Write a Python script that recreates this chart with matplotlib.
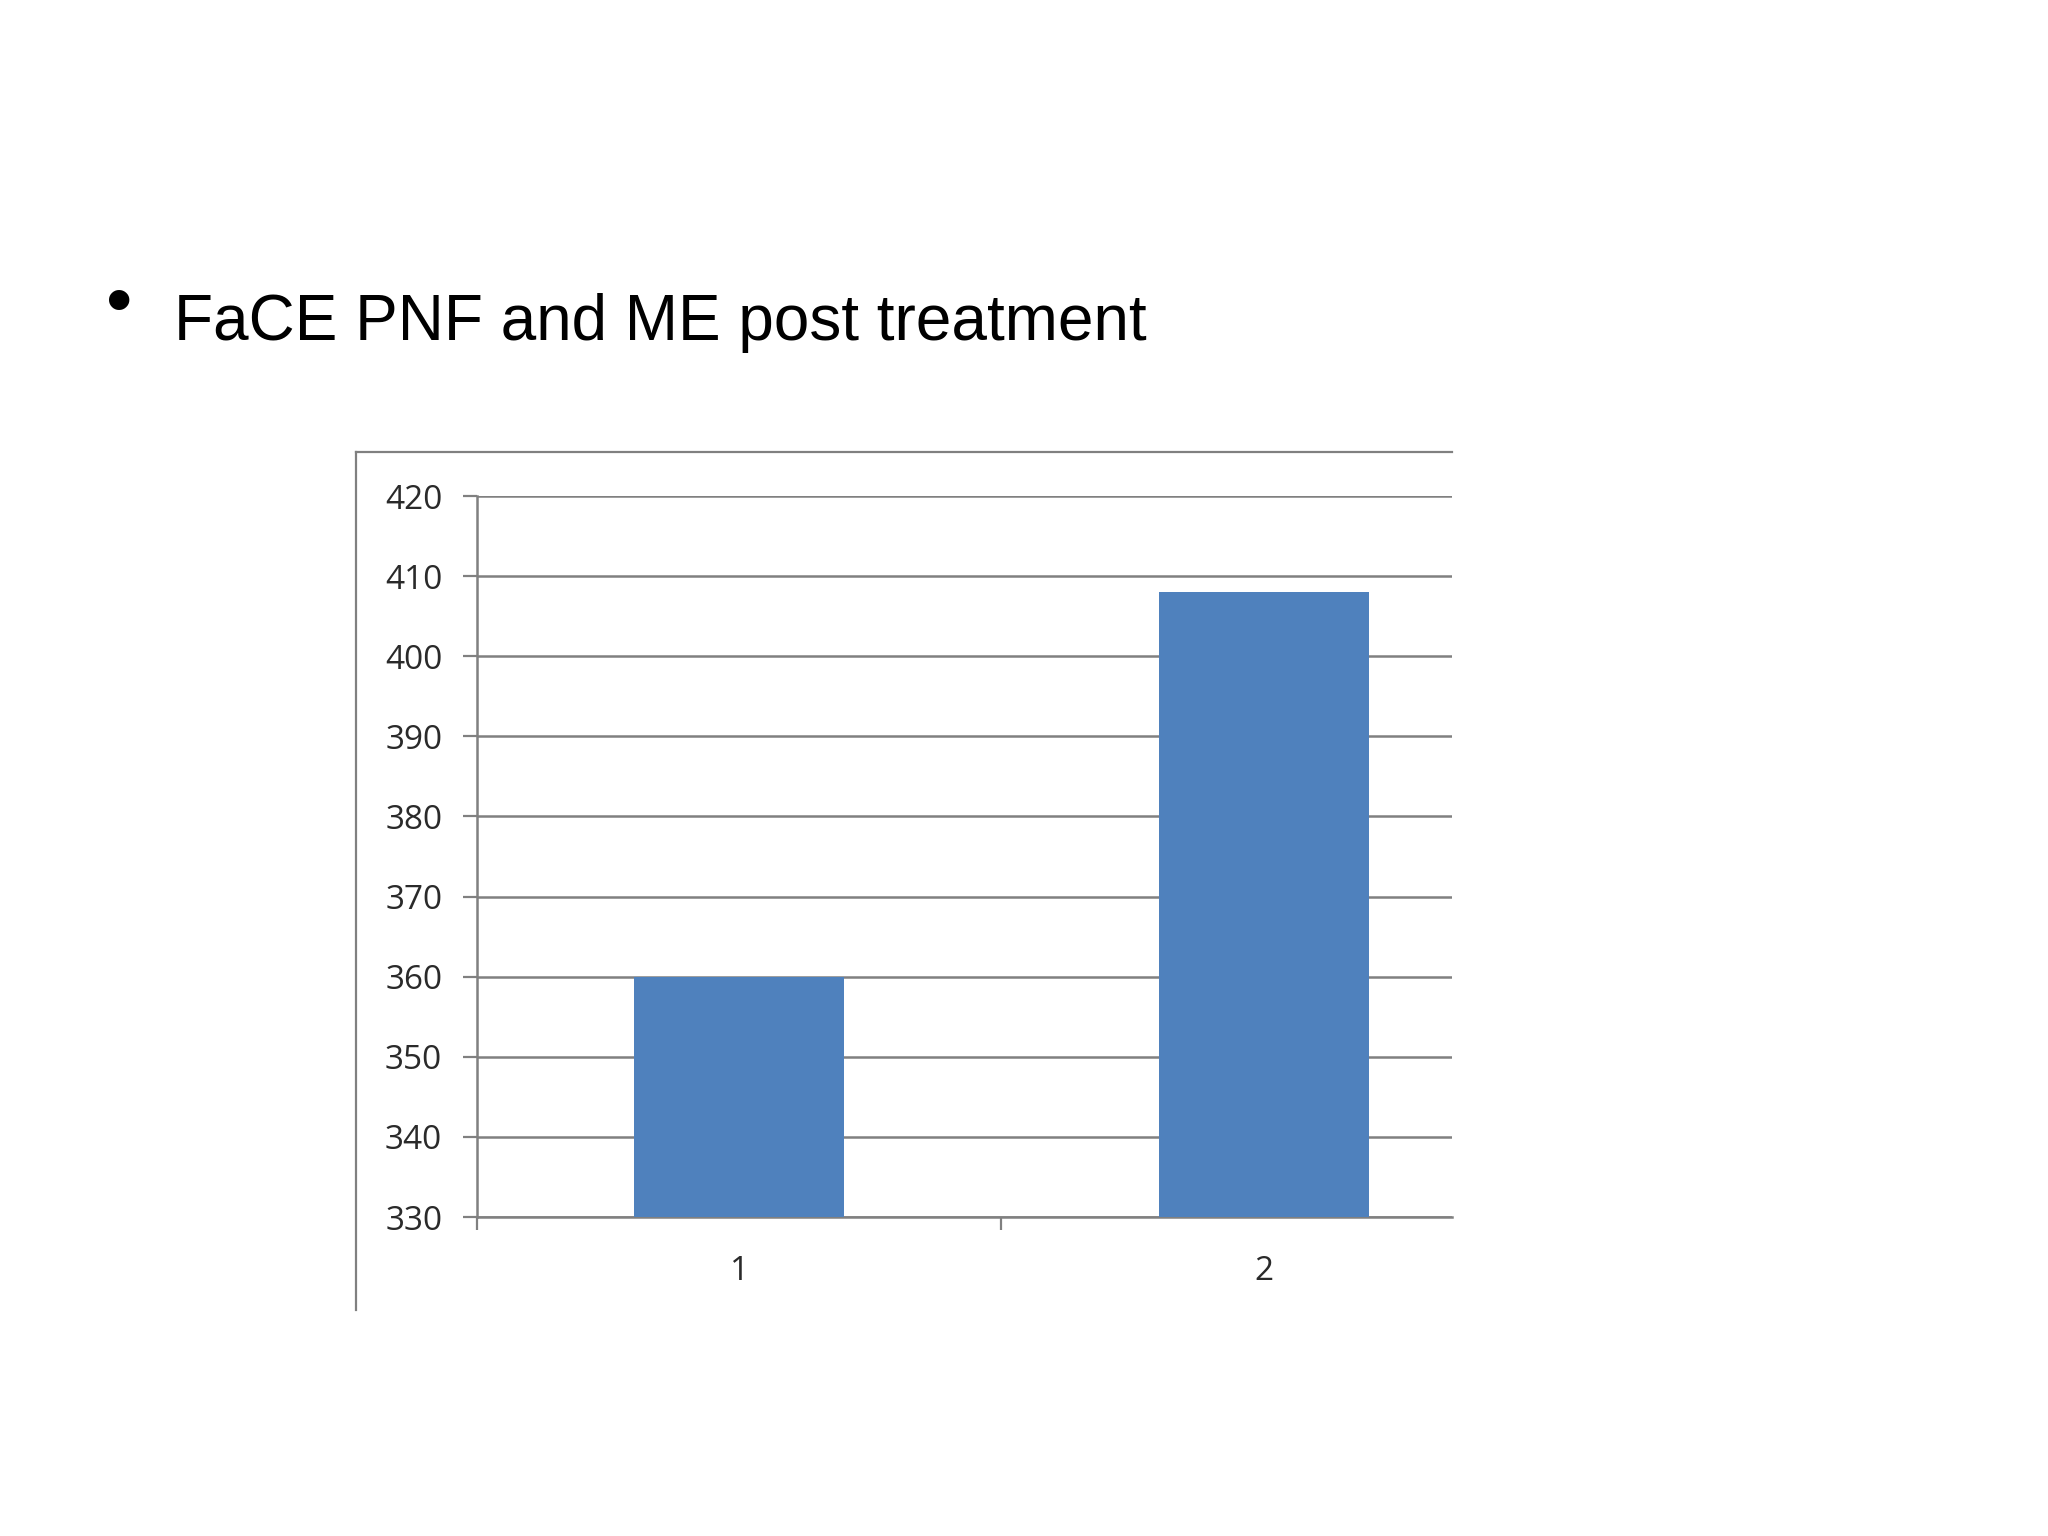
import matplotlib.pyplot as plt
from matplotlib.lines import Line2D

categories = [1, 2]
values = [360, 408]
y_ticks = [330, 340, 350, 360, 370, 380, 390, 400, 410, 420]
title = "FaCE PNF and ME post treatment"

W, H = 2048, 1536
fig = plt.figure(figsize=(W / 100, H / 100), dpi=100)

grey = "#808080"

# outer chart frame (only left and top visible, clipped slide picture)
fig.add_artist(Line2D([356 / W, 356 / W], [1 - 452 / H, 1 - 1310 / H],
                      transform=fig.transFigure, color=grey, lw=1.6))
fig.add_artist(Line2D([356 / W, 1452 / W], [1 - 452 / H, 1 - 452 / H],
                      transform=fig.transFigure, color=grey, lw=1.6))

# bullet title
fig.text(106 / W, 1 - 325 / H, "\u2022", fontsize=54, family="Liberation Sans",
         va="baseline", ha="left", color="black")
fig.text(174 / W, 1 - 340 / H, title, fontsize=46, family="Liberation Sans",
         va="baseline", ha="left", color="black")

ax = fig.add_axes([477 / W, 1 - 1217 / H, (1452 - 477) / W, (1217 - 496) / H])
ax.bar(categories, values, width=0.4, color="#4F81BD", zorder=3)

ax.set_yticks(y_ticks)
ax.set_yticklabels([str(v) for v in y_ticks], family="Open Sans", fontsize=24, color="#2a2a2a")

ax.set_xticks([0.5, 1.5])
ax.set_xticklabels([])
ax.set_xticks(categories, minor=True)
ax.set_xticklabels([str(c) for c in categories], minor=True,
                   family="Open Sans", fontsize=24, color="#2a2a2a")

ax.set_ylim(330, 420)
ax.set_xlim(0.5, 2.359)

ax.tick_params(axis="y", direction="out", length=10, width=1.6, color=grey, pad=15)
ax.tick_params(axis="x", which="major", direction="out", length=9.5, width=1.6, color=grey)
ax.tick_params(axis="x", which="minor", length=0, pad=27)

ax.grid(axis="y", color=grey, lw=1.8, zorder=0)
ax.set_axisbelow(True)

for side in ["top", "right"]:
    ax.spines[side].set_visible(False)
for side in ["left", "bottom"]:
    ax.spines[side].set_color(grey)
    ax.spines[side].set_linewidth(1.8)

fig.savefig("out.png", dpi=100)
